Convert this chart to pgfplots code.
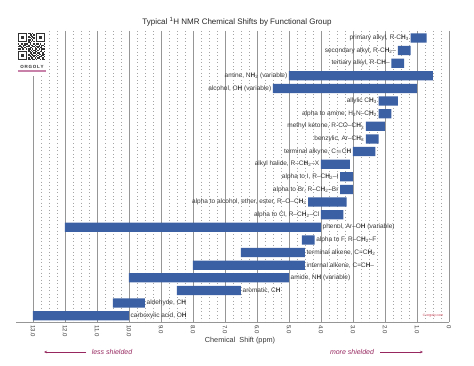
\documentclass[border=0pt]{standalone}
\usepackage{pgfplots}
\pgfplotsset{compat=1.18}
\usepackage{pgfplotstable}
\usepackage{fontspec}
\setmainfont{Liberation Sans}
\usetikzlibrary{arrows.meta}
\definecolor{barblue}{RGB}{59,96,163}
\definecolor{labgray}{RGB}{55,55,55}
\definecolor{shield}{RGB}{150,40,95}
\definecolor{gridmaj}{RGB}{150,150,150}
\definecolor{gridmin}{RGB}{165,165,165}
\definecolor{qrgray}{RGB}{50,50,50}
\definecolor{logopink}{RGB}{200,130,170}
\definecolor{copyred}{RGB}{200,60,80}

\protected\def\hb{\textbf{H}}
\protected\def\sub#1{\textsubscript{#1}}
\protected\def\tb{$\equiv$}
\protected\def\none{}

\newcount\qrc
\def\qrloop#1{%
  \ifx#1\relax
  \else
    \ifnum#1=1 \fill[qrgray] (\the\qrc,-\qry) rectangle ++(1,-1);\fi
    \global\advance\qrc by 1
    \expandafter\qrloop
  \fi}
\def\qrrow#1#2{\global\qrc=0 \def\qry{#1}\qrloop#2\relax}

\pgfplotstableread{
row lo hi left right
1 0.7 1.2 {primary alkyl, R-C\hb\sub{3}} {\none}
2 1.2 1.6 {secondary alkyl, R-C\hb\sub{2}–} {\none}
3 1.4 1.8 {tertiary alkyl, R-C\hb–} {\none}
4 0.5 5.0 {amine, N\hb\sub{2} (variable)} {\none}
5 1.0 5.5 {alcohol, O\hb{} (variable)} {\none}
6 1.6 2.2 {allylic C\hb\sub{3}} {\none}
7 1.8 2.2 {alpha to amine, H\sub{2}N–C\hb\sub{2}} {\none}
8 2.0 2.6 {methyl ketone, R-CO–C\hb\sub{3}} {\none}
9 2.2 2.6 {benzylic, Ar–C\hb\sub{3}} {\none}
10 2.3 3.0 {terminal alkyne, C\tb{}C\hb} {\none}
11 3.1 4.0 {alkyl halide, R–C\hb\sub{2}–X} {\none}
12 3.0 3.4 {alpha to I, R–C\hb\sub{2}–I} {\none}
13 3.0 3.4 {alpha to Br, R–C\hb\sub{2}–Br} {\none}
14 3.2 4.4 {alpha to alcohol, ether, ester, R–O–C\hb\sub{2}} {\none}
15 3.3 4.0 {alpha to Cl, R–C\hb\sub{2}–Cl} {\none}
16 4.0 12.0 {\none} {phenol, Ar–O\hb{} (variable)}
17 4.2 4.6 {\none} {alpha to F, R–C\hb\sub{2}–F}
18 4.5 6.5 {\none} {terminal alkene, C=C\hb\sub{2}}
19 4.5 8.0 {\none} {internal alkene, C=C\hb–}
20 5.0 10.0 {\none} {amide, N\hb{} (variable)}
21 6.5 8.5 {\none} {aromatic, C\hb}
22 9.5 10.5 {\none} {aldehyde, C\hb}
23 10.0 13.0 {\none} {carboxylic acid, O\hb}
}\shifts

\tikzset{lab/.style={font=\fontsize{6.5}{7.5}\selectfont, text=labgray, inner sep=1.5pt}}
\pgfplotsset{
  chartframe/.style={
    at={(0pt,0pt)}, anchor=south west,
    scale only axis, width=433pt, height=291pt,
    xmin=0, xmax=13.53, x dir=reverse,
    ymin=0.45, ymax=23.5, y dir=reverse,
    clip=false,
  },
}

\begin{document}
\begin{tikzpicture}
\begin{axis}[
  chartframe,
  xbar stacked, bar width=0.74,
  axis y line=none, axis x line*=bottom,
  ytick=\empty,
  xtick={0,1,...,13},
  xticklabels={0,1.0,2.0,3.0,4.0,5.0,6.0,7.0,8.0,9.0,10.0,11.0,12.0,13.0},
  minor x tick num=3,
  xmajorgrids, xminorgrids,
  major grid style={gridmaj, line width=0.6pt},
  minor grid style={gridmin, line width=0.5pt, dash pattern=on 0.5pt off 3pt},
  major tick length=0pt, minor tick length=0pt,
  axis line style={gridmaj, line width=0.6pt},
  xticklabel style={rotate=-90, anchor=west, font=\fontsize{6}{7}\selectfont, text=labgray},
]
\addplot[draw=none, fill=none] table[x=lo, y=row] {\shifts};
\addplot[draw=none, fill=barblue] table[x expr=\thisrow{hi}-\thisrow{lo}, y=row] {\shifts};
\end{axis}
\begin{axis}[chartframe, hide axis]
\addplot[only marks, mark=none, nodes near coords, point meta=explicit symbolic,
  nodes near coords style={lab, anchor=west}]
  table[x=lo, y=row, meta=right] {\shifts};
\addplot[only marks, mark=none, nodes near coords, point meta=explicit symbolic,
  nodes near coords style={lab, anchor=east}]
  table[x=hi, y=row, meta=left] {\shifts};
\end{axis}
% logo
\fill[white] (-2pt,246pt) rectangle (31pt,292pt);
\begin{scope}[shift={(2pt,289pt)}, x=1.286pt, y=1.286pt]
\qrrow{0}{111111101101001111111}
\qrrow{1}{100000100110101000001}
\qrrow{2}{101110101011001011101}
\qrrow{3}{101110101101101011101}
\qrrow{4}{101110100010101011101}
\qrrow{5}{100000101101001000001}
\qrrow{6}{111111101010101111111}
\qrrow{7}{000000001100000000000}
\qrrow{8}{101101110100101101001}
\qrrow{9}{010011001011010010110}
\qrrow{10}{111010111001101110101}
\qrrow{11}{001101000110010101100}
\qrrow{12}{110110101101011010111}
\qrrow{13}{000000001010110100100}
\qrrow{14}{111111101101011001101}
\qrrow{15}{100000100110110110010}
\qrrow{16}{101110101011001011011}
\qrrow{17}{101110101101110100110}
\qrrow{18}{101110100110101011101}
\qrrow{19}{100000101011010110010}
\qrrow{20}{111111101101101001011}
\end{scope}
\node[text=qrgray, font=\fontsize{4.5}{5}\selectfont\bfseries, inner sep=0pt] at (16pt,255pt) {O\,R\,G\,O\,L\,Y};
\draw[logopink, line width=1.2pt] (2pt,251pt) -- (30pt,251pt);
% title and texts
\node[text=black!85, font=\fontsize{8}{9}\selectfont] at (221pt,300pt) {Typical \textsuperscript{1}H NMR Chemical Shifts by Functional Group};
\node[text=labgray, font=\fontsize{7.3}{9}\selectfont] at (224pt,-19pt) {Chemical\ \ Shift (ppm)};
\node[text=shield, font=\fontsize{7}{8}\selectfont\itshape] at (96pt,-30pt) {less shielded};
\node[text=shield, font=\fontsize{7}{8}\selectfont\itshape] at (336pt,-30pt) {more shielded};
\draw[shield, line width=0.5pt, -{Stealth[length=3pt,width=2.5pt]}] (70pt,-30pt) -- (28pt,-30pt);
\draw[shield, line width=0.5pt, -{Stealth[length=3pt,width=2.5pt]}] (364pt,-30pt) -- (407pt,-30pt);
\node[text=copyred, font=\fontsize{3.5}{4}\selectfont] at (417pt,6pt) {\textcopyright\ orgoly.com};
\path[use as bounding box] (-16pt,-44pt) rectangle (458pt,322pt);
\end{tikzpicture}
\end{document}
